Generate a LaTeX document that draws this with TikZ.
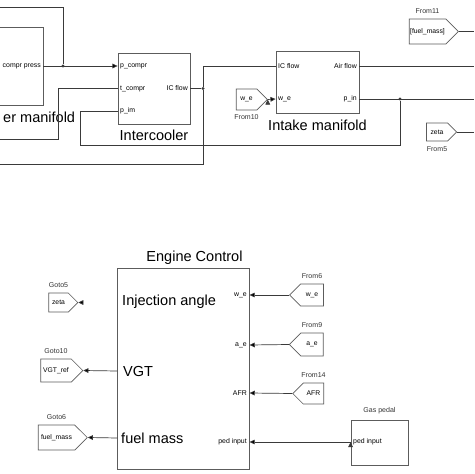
\documentclass[tikz,border=0pt]{standalone}
\usepackage{fontspec}
\setmainfont{Liberation Sans}
\usetikzlibrary{arrows.meta}
\usetikzlibrary{shapes.symbols}
\usetikzlibrary{positioning}
\definecolor{wirecol}{HTML}{3A3A3A}
\definecolor{framecol}{HTML}{5C5C5C}
\begin{document}
\begin{tikzpicture}[x=0.3mm,y=-0.3mm,>={Triangle[length=4.4pt,width=4pt]}]
        \tikzset{block/.style={draw=framecol, line width=0.7pt, rectangle, inner sep=0pt},
        big/.style={font=\fontsize{12.4}{13}\selectfont, inner sep=0pt},
        port/.style={font=\fontsize{5.9}{6}\selectfont, inner sep=0pt},
        caption/.style={font=\fontsize{6}{7}\selectfont, inner sep=0pt, text=black!80},
        tagright/.style={ % requires library shapes.symbols
        draw=framecol,
        line width=0.6pt,
        signal,
        signal to=east,
        signal from=nowhere,
        inner sep=0pt,
        font=\fontsize{5.8}{6}\selectfont
    },
        tagleft/.style={tagright, signal to=west},
        wire/.style={draw=wirecol, line width=0.6pt},
        jdot/.style={circle, fill=wirecol, inner sep=0pt, minimum size=2.8pt}
        }
        \fill[white] (0,0) rectangle (474,474);
        \useasboundingbox (0,0) rectangle (474,474);
        \clip (0,0) rectangle (474,474);

%% upper part: air path
        \node [block, minimum width=14.7mm, minimum height=23.4mm] (compman) at (18.5,66) {};
        \node [port, anchor=east] (cpress) at (41,66) {compr press};
        \node [big, anchor=west] (compmanlbl) at (3,117) {er manifold};

        \node [block, minimum width=21.6mm, minimum height=21.3mm] (ic) at (154,88.5) {};
        \node [port, anchor=west] (icpcompr) at (120,66) {p\_compr};
        \node [port, anchor=west] (ictcompr) at (120,88.5) {t\_compr};
        \node [port, anchor=west] (icpim) at (120,111) {p\_im};
        \node [port, anchor=east] (icflow) at (188,88.5) {IC flow};
        \node [big, below=1.5mm of ic] (iclbl) {Intercooler};

        \node [block, minimum width=24.9mm, minimum height=18.6mm] (im) at (317.5,82) {};
        \node [port, anchor=west] (imicflow) at (278,66) {IC flow};
        \node [port, anchor=west] (imwe) at (278,99) {w\_e};
        \node [port, anchor=east] (imair) at (357,66) {Air flow};
        \node [port, anchor=east] (impin) at (357,99) {p\_in};
        \node [big, below=2mm of im] (imlbl) {Intake manifold};

        \node [tagright, minimum width=9.3mm, minimum height=6.3mm] (from10) at (246.5,99.5) {w\_e};
        \node [caption, below=1.2mm of from10] (from10lbl) {From10};
        \node [tagright, minimum width=14.7mm, minimum height=7.5mm] (from11) at (427.5,31.5) {[fuel\_mass]};
        \node [caption, above=1.5mm of from11] (from11lbl) {From11};
        \node [tagright, minimum width=9mm, minimum height=5.4mm] (from5) at (437,132) {zeta};
        \node [caption, below=1.5mm of from5] (from5lbl) {From5};

        \node [jdot] (j1) at (63,66) {};
        \node [jdot] (j2) at (203,88.5) {};
        \node [jdot] (j3) at (400,99) {};
        \coordinate (w1) at (0,7);
        \coordinate (w2) at (0,139);
        \coordinate (w3) at (0,164);
        \coordinate (tbend) at (58,139);
        \coordinate (pbend) at (80,145);
        \coordinate (airout) at (474,66);
        \coordinate (pinout) at (474,99);
        \coordinate (fuelout) at (474,31.5);
        \coordinate (zetaout) at (474,132);

%% lower part: controller
        \node [block, minimum width=39.4mm, minimum height=60.3mm] (ec) at (183.5,368.5) {};
        \node [big] (eclbl) at (194.5,258) {Engine Control};
        \node [big, anchor=west] (ecinj) at (122,302) {Injection angle};
        \node [big, anchor=west] (ecvgt) at (123,371) {VGT};
        \node [big, anchor=west] (ecfuel) at (121,438) {fuel mass};
        \node [port, anchor=east] (ecwe) at (247,295) {w\_e};
        \node [port, anchor=east] (ecae) at (247,345) {a\_e};
        \node [port, anchor=east] (ecafr) at (247,393) {AFR};
        \node [port, anchor=east] (ecped) at (247,442) {ped input};

        \node [tagright, minimum width=8.7mm, minimum height=5.7mm] (goto5) at (58.5,302.5) {zeta};
        \node [caption, above=1.5mm of goto5] (goto5lbl) {Goto5};
        \node [tagright, minimum width=12.6mm, minimum height=6.9mm] (goto10) at (56,370.5) {VGT\_ref};
        \node [caption, above=1.5mm of goto10] (goto10lbl) {Goto10};
        \node [tagright, minimum width=14.7mm, minimum height=7.5mm] (goto6) at (56.5,437.5) {fuel\_mass};
        \node [caption, above=1.5mm of goto6] (goto6lbl) {Goto6};
        \coordinate (zstub) at (80,302.5);

        \node [tagleft, minimum width=10.2mm, minimum height=6.6mm] (from6) at (312,295) {w\_e};
        \node [caption, above=1.5mm of from6] (from6lbl) {From6};
        \node [tagleft, minimum width=10.2mm, minimum height=6.9mm] (from9) at (312,344.5) {a\_e};
        \node [caption, above=1.5mm of from9] (from9lbl) {From9};
        \node [tagleft, minimum width=9.3mm, minimum height=6.3mm] (from14) at (313.5,393.5) {AFR};
        \node [caption, above=1.5mm of from14] (from14lbl) {From14};

        \node [block, minimum width=17.1mm, minimum height=13.5mm] (gas) at (379.5,442.5) {};
        \node [port, anchor=west] (gasped) at (353,442) {ped input};
        \node [caption, above=1.5mm of gas] (gaslbl) {Gas pedal};

%% paths
        \path[wire] (w1) -| (j1)
                    (ic.east |- icflow) -- (j2)
                    (im.east |- imair) -- (airout)
                    (im.east |- impin) -- (pinout)
                    (from11.east) -- (fuelout)
                    (from5.east) -- (zetaout)
                    ;
        \path[wire,->] (compman.east |- cpress) edge (ic.west |- icpcompr)
                    (w2) -- (tbend) |- (ic.west |- ictcompr)
                    (j3) |- (pbend) |- (ic.west |- icpim)
                    (w3) -| (j2) |- (im.west |- imicflow)
                    (from10.east) edge (im.west |- imwe)
                    ;
        \path[wire,->] (zstub) edge (goto5.east)
                    (ec.west |- ecvgt) edge (goto10.east)
                    (ec.west |- ecfuel) edge (goto6.east)
                    (from6.west) edge (ec.east |- ecwe)
                    (from9.west) edge (ec.east |- ecae)
                    (from14.west) edge (ec.east |- ecafr)
                    (gas.west |- gasped) edge (ec.east |- ecped)
                    ;
    \end{tikzpicture}
\end{document}
